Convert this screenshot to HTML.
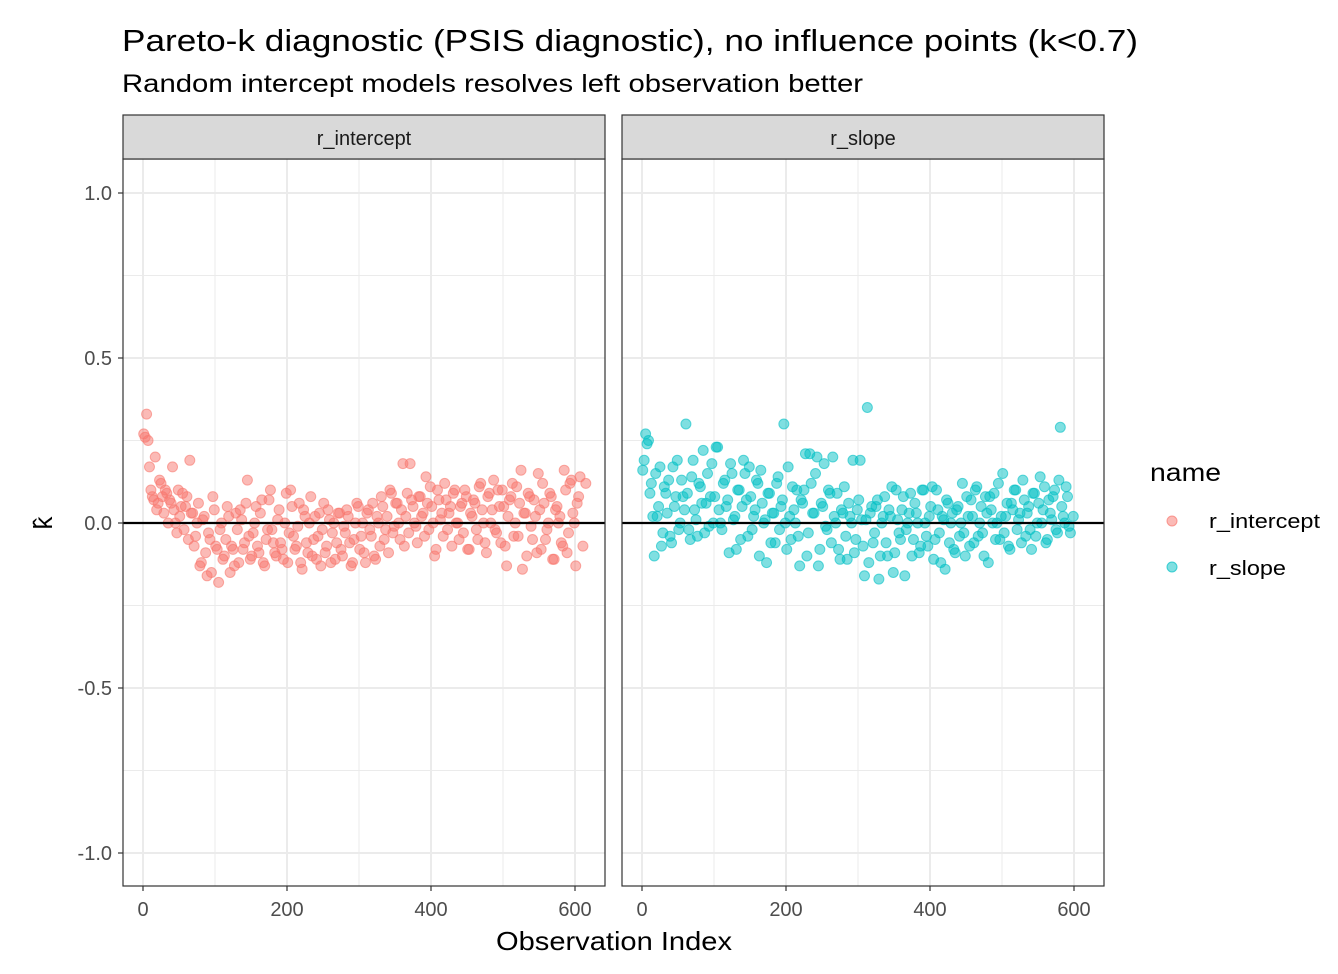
<!DOCTYPE html>
<html><head><meta charset="utf-8"><style>
body{margin:0;background:#fff;}
svg{display:block;font-family:"Liberation Sans",Arial,sans-serif;}
</style></head><body>
<svg id="c" width="1338" height="974" xmlns="http://www.w3.org/2000/svg">
<text x="122" y="51" font-size="31" textLength="1016" lengthAdjust="spacingAndGlyphs" fill="#000">Pareto-k diagnostic (PSIS diagnostic), no influence points (k&lt;0.7)</text>
<text x="122" y="92" font-size="25" textLength="741" lengthAdjust="spacingAndGlyphs" fill="#000">Random intercept models resolves left observation better</text>
<text x="496" y="950" font-size="26" textLength="236" lengthAdjust="spacingAndGlyphs" fill="#000">Observation Index</text>
<text transform="translate(52,523) rotate(-90)" font-size="26" text-anchor="middle" fill="#000">k̂</text>
<text x="1150" y="481" font-size="25" textLength="71" lengthAdjust="spacingAndGlyphs" fill="#000">name</text>
<circle cx="1172" cy="521" r="5" fill="#F8766D" fill-opacity="0.5" stroke="#F8766D" stroke-opacity="0.7"/>
<text x="1209" y="528" font-size="20" textLength="111" lengthAdjust="spacingAndGlyphs" fill="#000">r_intercept</text>
<circle cx="1172" cy="567" r="5" fill="#00BFC4" fill-opacity="0.5" stroke="#00BFC4" stroke-opacity="0.7"/>
<text x="1209" y="575" font-size="20" textLength="77" lengthAdjust="spacingAndGlyphs" fill="#000">r_slope</text>
</svg>
<script>
const panels = ["r_intercept","r_slope"];
const yTicks = [-1.0,-0.5,0.0,0.5,1.0];
const yTickLabels = ["-1.0","-0.5","0.0","0.5","1.0"];
const xTicks = [0,200,400,600];
const xTickLabels = ["0","200","400","600"];
// observations 1,5,9,...
const interceptK = [0.27,0.33,0.17,0.08,0.2,0.06,0.12,0.03,0.09,0.07,0.17,0.0,0.1,0.05,-0.02,0.08,0.19,0.03,-0.04,0.06,-0.12,0.02,-0.16,-0.05,0.08,-0.07,-0.18,0.0,-0.1,0.05,-0.15,-0.08,0.03,-0.12,0.01,-0.06,0.13,-0.11,-0.03,0.05,-0.09,0.07,-0.13,-0.02,0.1,-0.06,-0.1,0.04,-0.08,0.0,-0.12,0.1,-0.04,-0.07,0.06,-0.14,0.02,-0.09,0.08,-0.05,-0.11,0.03,-0.02,-0.09,0.04,-0.12,0.0,-0.06,0.03,-0.1,-0.03,0.02,-0.13,-0.05,0.06,-0.08,0.0,-0.12,0.04,-0.04,-0.1,0.02,-0.07,0.05,-0.02,-0.09,0.09,-0.01,0.06,-0.05,0.18,0.02,-0.03,0.07,0.0,-0.06,0.08,0.03,0.14,-0.02,0.05,-0.1,0.1,0.01,-0.04,0.07,0.03,-0.07,0.1,0.0,0.05,-0.03,0.08,-0.08,0.02,0.06,-0.05,0.12,0.0,-0.09,0.09,0.04,-0.02,0.1,-0.06,0.05,-0.13,0.07,0.12,0.0,-0.04,0.16,0.03,-0.1,0.08,-0.05,0.02,0.15,-0.08,0.06,-0.02,0.09,-0.11,0.04,0.0,-0.06,0.16,-0.09,0.12,0.03,-0.13,0.08];
// observations 3,7,11,...
const interceptK2 = [0.26,0.25,0.1,0.07,0.04,0.13,0.08,0.1,0.0,0.06,0.04,-0.03,0.02,0.09,0.05,-0.05,0.03,-0.07,0.0,-0.13,0.01,-0.09,-0.03,-0.15,0.04,-0.08,-0.02,-0.11,-0.05,0.02,-0.07,-0.13,-0.02,0.04,-0.08,0.06,-0.04,-0.1,0.0,-0.07,0.03,-0.12,-0.05,0.07,-0.02,-0.09,0.01,-0.06,-0.11,0.09,-0.03,0.05,-0.08,-0.01,-0.12,0.04,-0.06,0.0,-0.1,0.02,-0.04,-0.13,0.06,-0.07,0.01,-0.03,-0.11,0.03,-0.08,-0.01,0.04,-0.06,-0.12,0.0,0.05,-0.04,-0.09,0.03,-0.02,0.06,-0.11,0.0,0.08,-0.05,0.02,0.1,-0.03,0.06,0.0,0.04,-0.07,0.09,0.18,0.05,-0.01,0.08,0.02,-0.04,0.06,0.11,0.0,-0.08,0.07,0.03,0.12,-0.02,0.05,0.09,0.0,-0.05,0.06,0.1,-0.08,0.03,0.07,-0.02,0.11,0.04,-0.06,0.08,0.0,0.13,-0.03,0.05,0.1,-0.07,0.02,0.08,-0.04,0.11,0.06,-0.14,0.03,0.09,-0.01,0.07,-0.09,0.04,0.12,-0.05,0.0,0.08,-0.11,0.05,0.02,-0.07,0.1,-0.03,0.13,0.0,0.06,0.14,-0.07,0.12];
const slopeK = [0.16,0.27,0.25,0.12,-0.1,0.02,0.17,-0.03,0.09,0.13,-0.06,0.05,0.19,0.0,0.08,0.3,-0.02,0.14,0.04,-0.04,0.11,0.22,0.06,-0.01,0.18,0.08,0.23,0.0,0.12,0.05,-0.09,0.15,0.02,0.1,-0.05,0.19,0.07,0.17,-0.02,0.04,0.12,0.16,0.0,-0.12,0.09,0.03,-0.06,0.14,0.05,0.3,-0.08,0.02,0.11,0.0,-0.04,0.07,0.1,-0.1,0.21,0.03,0.15,-0.13,0.06,0.18,-0.02,0.09,0.2,0.0,-0.08,0.04,0.11,-0.11,0.02,0.19,-0.05,0.07,0.01,-0.16,0.35,0.03,-0.06,0.05,-0.17,0.0,0.08,-0.1,0.02,-0.15,0.1,-0.03,0.04,-0.16,0.0,0.09,-0.05,0.03,-0.09,0.1,0.0,-0.07,0.05,-0.11,0.1,-0.03,0.02,-0.14,0.06,0.0,-0.08,0.04,-0.04,0.12,-0.1,0.02,0.07,-0.06,0.11,0.0,-0.03,0.08,-0.12,0.04,0.09,0.0,-0.05,0.15,0.02,-0.07,0.06,0.1,-0.02,0.03,0.13,-0.04,0.05,-0.08,0.09,0.0,0.14,0.04,-0.06,0.07,0.01,0.1,-0.03,0.29,0.02,0.11,-0.01];
const slopeK2 = [0.19,0.24,0.09,0.02,0.15,0.05,-0.07,0.11,0.03,-0.04,0.17,0.08,-0.02,0.13,0.04,0.09,-0.05,0.19,0.01,0.12,0.06,-0.03,0.15,0.08,0.0,0.23,0.04,-0.02,0.13,0.07,0.18,0.01,-0.08,0.1,0.05,0.15,-0.04,0.08,0.02,0.13,-0.1,0.06,0.01,0.09,-0.06,0.03,0.12,-0.02,0.07,0.0,0.17,-0.05,0.04,0.1,-0.13,0.06,0.21,-0.03,0.12,0.03,0.2,-0.08,0.05,-0.01,0.1,-0.06,0.02,0.09,-0.11,0.03,-0.04,0.06,0.0,-0.09,0.04,0.19,-0.07,0.01,-0.12,0.05,-0.03,0.07,-0.1,0.02,-0.06,0.04,0.11,-0.09,0.01,-0.05,0.08,-0.02,0.03,-0.1,0.06,0.0,-0.07,0.1,-0.04,0.02,0.11,-0.05,0.04,-0.12,0.01,0.07,-0.06,0.03,-0.09,0.05,0.0,-0.03,0.08,-0.07,0.02,0.1,-0.04,0.05,-0.1,0.03,0.08,0.0,-0.05,0.12,0.02,-0.03,0.06,-0.08,0.04,0.1,0.01,-0.06,0.07,0.03,-0.02,0.09,-0.04,0.06,0.0,0.11,-0.05,0.03,0.08,-0.02,0.13,0.05,0.0,0.08,-0.03,0.02];
const seriesData = [[interceptK, interceptK2], [slopeK, slopeK2]];
const seriesStart = [1, 3];
const colors = ["#F8766D","#00BFC4"];
const obsStep = 4;

(function(){
const svg = document.getElementById('c');
const NS = "http://www.w3.org/2000/svg";
function mk(tag, attrs){const e=document.createElementNS(NS,tag);for(const k in attrs)e.setAttribute(k,attrs[k]);svg.appendChild(e);return e;}
const panelLeft=[123,622], panelW=482, plotTop=159, plotBottom=886;
function yScale(v){return 523 - v*330;}
function xScale(p,v){return panelLeft[p] + 20 + v*0.72;}

panels.forEach((name,p)=>{
  const L=panelLeft[p], R=L+panelW;
  const bg=mk('rect',{x:L,y:plotTop,width:panelW,height:plotBottom-plotTop,fill:'#fff'});
  
  
  [-0.75,-0.25,0.25,0.75].forEach(v=>{const l=mk('line',{x1:L,x2:R,y1:yScale(v),y2:yScale(v),stroke:'#ebebeb','stroke-width':1});
    
    });
  [100,300,500].forEach(v=>{const l=mk('line',{x1:xScale(p,v),x2:xScale(p,v),y1:plotTop,y2:plotBottom,stroke:'#ebebeb','stroke-width':1});
    
    });
  yTicks.forEach(v=>{const l=mk('line',{x1:L,x2:R,y1:yScale(v),y2:yScale(v),stroke:'#ebebeb','stroke-width':2});
    
    });
  xTicks.forEach((v,i)=>{const l=mk('line',{x1:xScale(p,v),x2:xScale(p,v),y1:plotTop,y2:plotBottom,stroke:'#ebebeb','stroke-width':2});
    
    
    const t=mk('line',{x1:xScale(p,v),x2:xScale(p,v),y1:plotBottom,y2:plotBottom+5,stroke:'#333','stroke-width':1.2});
    
    
    const tx=mk('text',{x:xScale(p,v),y:plotBottom+30,'font-size':20,'text-anchor':'middle',fill:'#4d4d4d'});
    tx.textContent=xTickLabels[i];
    
    });
  seriesData[p].forEach((arr,s)=>{
    arr.forEach((k,i)=>{
      const c=mk('circle',{cx:xScale(p,seriesStart[s]+i*obsStep),cy:yScale(k),r:5,fill:colors[p],'fill-opacity':0.5,stroke:colors[p],'stroke-opacity':0.6});
      
      
    });
  });
  const h=mk('line',{x1:L,x2:R,y1:yScale(0),y2:yScale(0),stroke:'#000','stroke-width':2.2});
  
  
  const b=mk('rect',{x:L,y:plotTop,width:panelW,height:plotBottom-plotTop,fill:'none',stroke:'#333','stroke-width':1.2});
  
  
  const s=mk('rect',{x:L,y:115,width:panelW,height:44,fill:'#d9d9d9',stroke:'#333','stroke-width':1.2});
  
  
  const st=mk('text',{x:L+panelW/2,y:145,'font-size':20,'text-anchor':'middle',fill:'#1a1a1a'});
  st.textContent=name;
  
  
});
yTicks.forEach((v,i)=>{
  const t=mk('line',{x1:118,x2:123,y1:yScale(v),y2:yScale(v),stroke:'#333','stroke-width':1.2});
  
  
  const tx=mk('text',{x:112,y:yScale(v)+7,'font-size':20,'text-anchor':'end',fill:'#4d4d4d'});
  tx.textContent=yTickLabels[i];
  
  
});
})();
</script>
</body></html>
